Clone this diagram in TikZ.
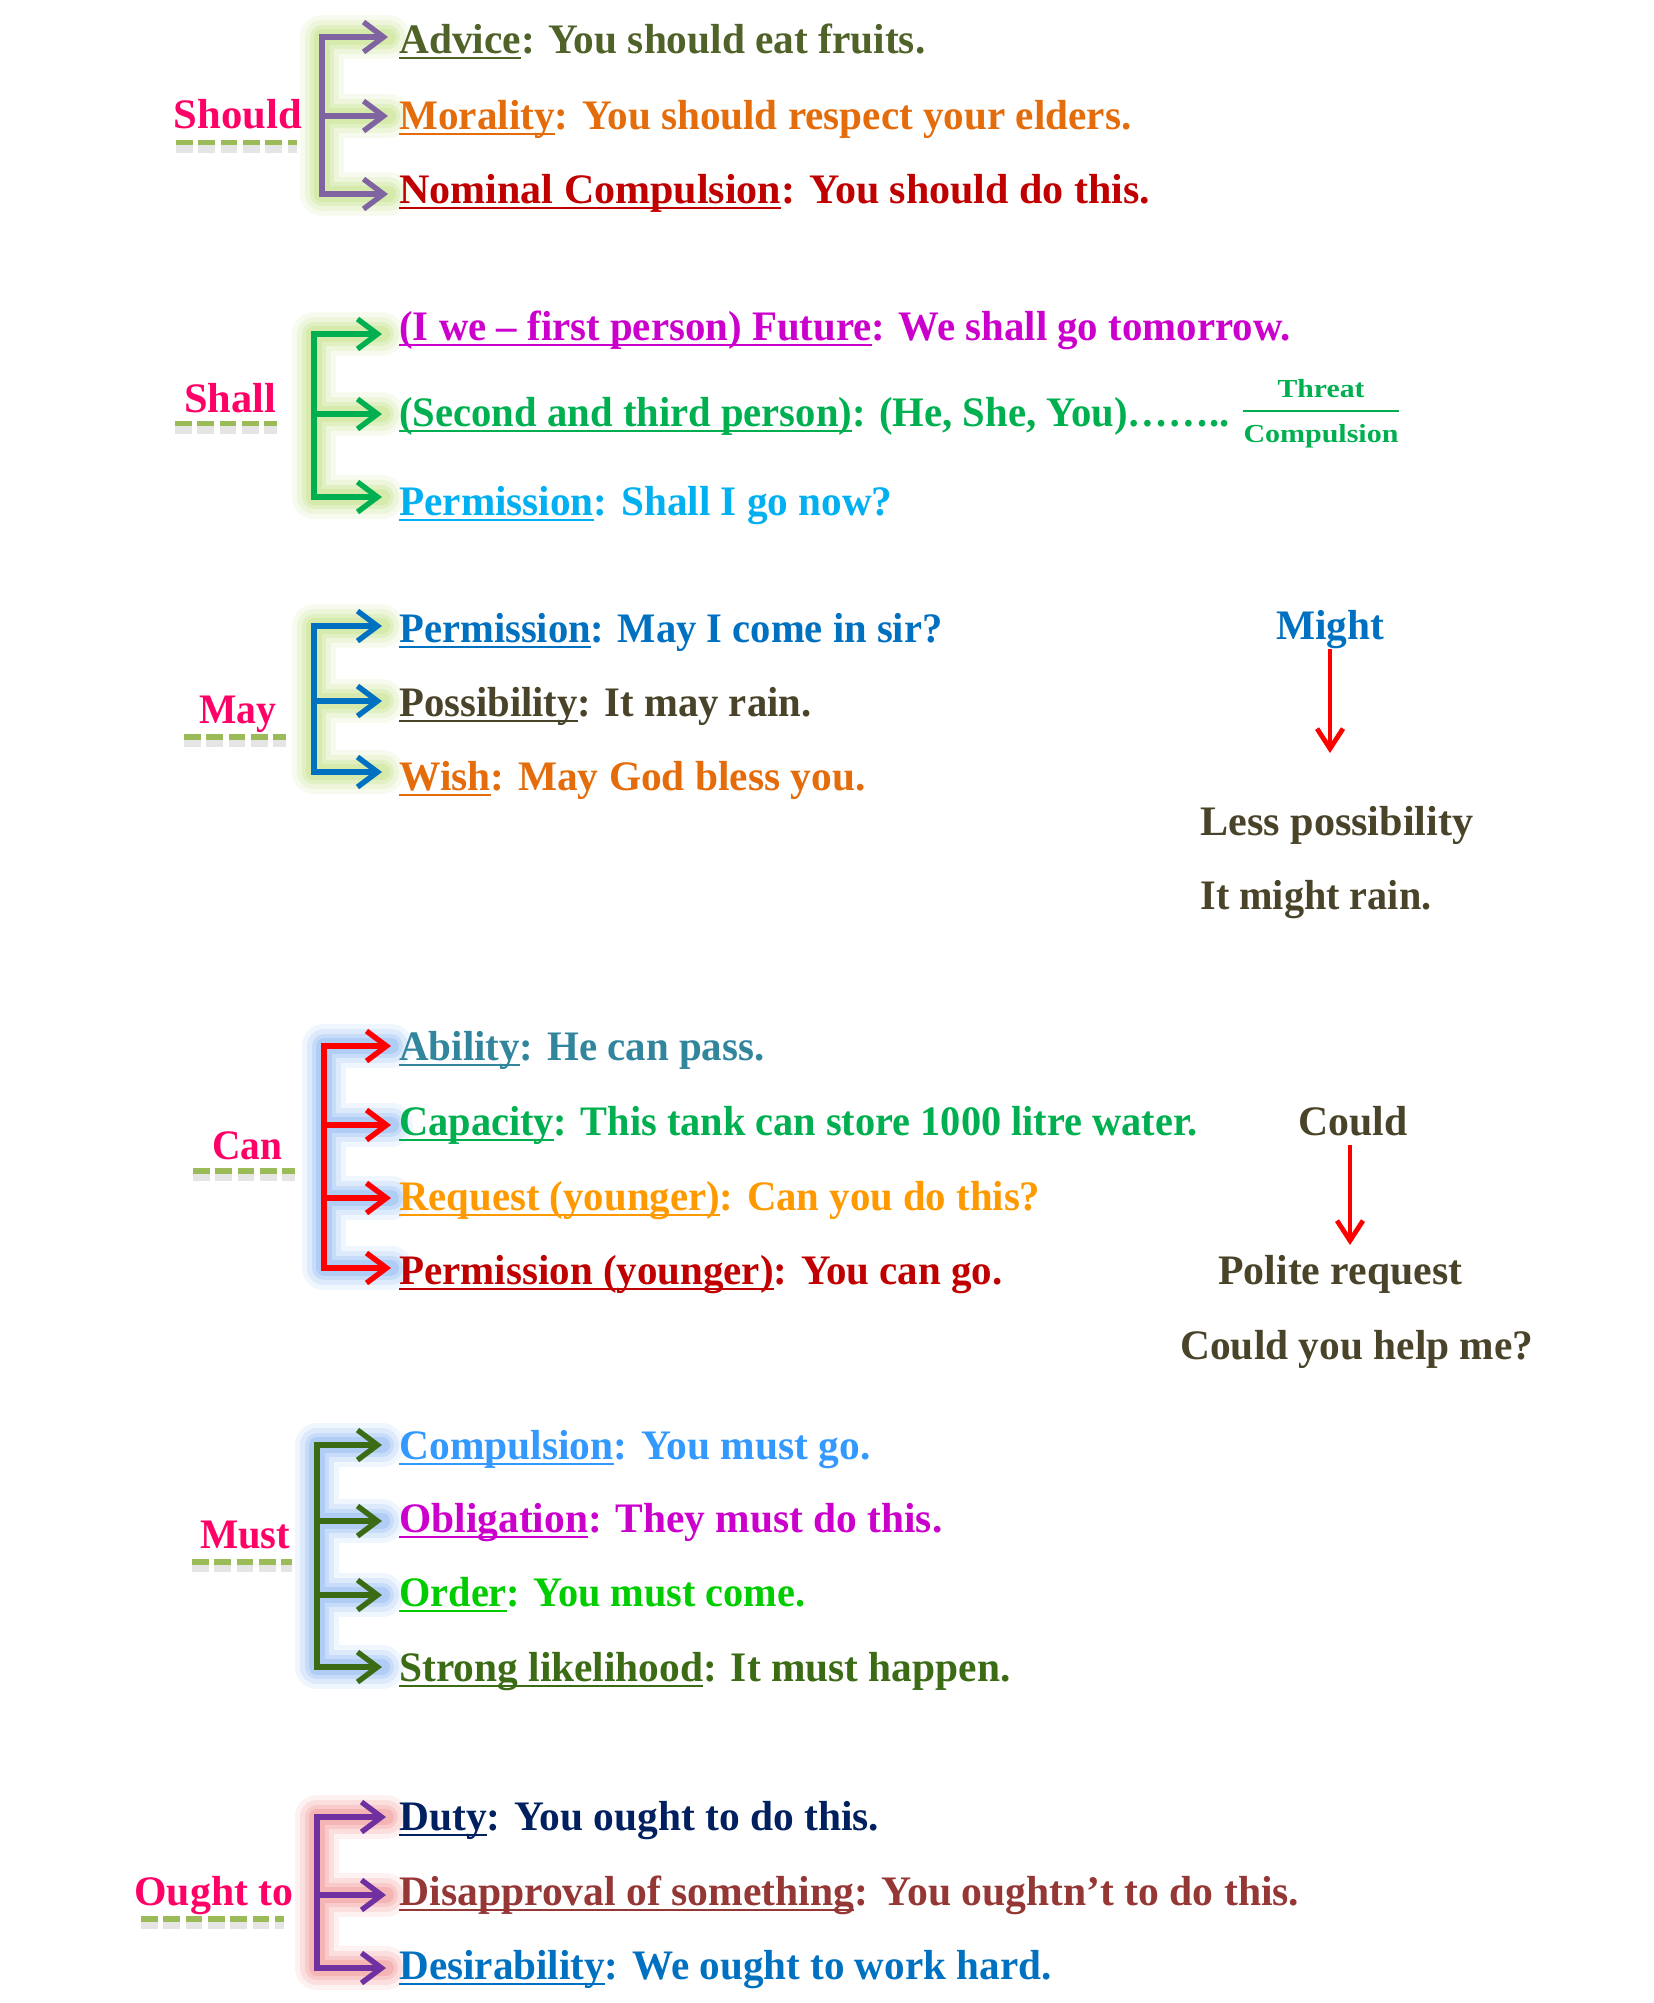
\documentclass[tikz,border=0pt]{standalone}
\usepackage{fontspec}
\setmainfont{Liberation Serif}
\usepackage{graphicx}
\usetikzlibrary{arrows.meta}
\definecolor{modal}{HTML}{FF0066}
\definecolor{dashg}{HTML}{9BBB59}
\definecolor{cshould}{HTML}{8064A2}
\definecolor{cadvice}{HTML}{4F6228}
\definecolor{corange}{HTML}{E46C0A}
\definecolor{cdred}{HTML}{C00000}
\definecolor{cgreen}{HTML}{00B050}
\definecolor{cmag}{HTML}{CC00CC}
\definecolor{ccyan}{HTML}{00B0F0}
\definecolor{cblue}{HTML}{0070C0}
\definecolor{cbrown}{HTML}{494429}
\definecolor{cteal}{HTML}{31859C}
\definecolor{camber}{HTML}{FF9900}
\definecolor{cmust}{HTML}{3B6B14}
\definecolor{clblue}{HTML}{3399FF}
\definecolor{clgreen}{HTML}{00CC00}
\definecolor{cought}{HTML}{7030A0}
\definecolor{cnavy}{HTML}{002060}
\definecolor{cmaroon}{HTML}{953735}
\definecolor{cred}{HTML}{FF0000}
\definecolor{glowg}{HTML}{B4DC64}
\definecolor{glowb}{HTML}{6FA8F0}
\definecolor{glowr}{HTML}{F07878}
\newsavebox\ulbox
\newcommand\ulx[1]{\sbox\ulbox{#1}\rlap{\rule[-0.15em]{\wd\ulbox}{0.06em}}\usebox\ulbox}
\newcommand\fw[2]{\resizebox{#1}{\height}{#2}}
\newcommand\glowpath[2]{\foreach \w/\o in {22pt/0.10,17pt/0.14,12pt/0.2,8pt/0.25}{\draw[draw=#1, line width=\w, opacity=\o, line cap=round, line join=round] #2;}}
\tikzset{
  txt/.style={anchor=base west, inner sep=0pt, font=\bfseries\fontsize{21}{24}\selectfont},
  lbl/.style={anchor=base, inner sep=0pt, font=\bfseries\fontsize{21}{24}\selectfont, text=modal},
  side/.style={inner sep=0pt, font=\bfseries\fontsize{21}{24}\selectfont, text=cbrown},
  brk/.style={line width=2.7pt, line cap=rect},
  arr/.style={line width=2.7pt, -{Straight Barb[length=10pt,width=15pt]}},
  redarr/.style={line width=2.4pt, draw=cred, -{Straight Barb[length=10pt,width=13pt]}},
  dsh/.style={line width=2.6pt, draw=dashg, dash pattern=on 8.4pt off 2.75pt},
  dshs/.style={line width=4pt, draw=black, opacity=0.10, dash pattern=on 8.4pt off 2.75pt},
  frac/.style={inner sep=0pt, anchor=base, font=\bfseries\fontsize{13}{14}\selectfont, text=cgreen}
}
\newcommand\dashes[2]{\draw[dshs, transform canvas={yshift=-3pt}] (#1) -- (#2); \draw[dsh] (#1) -- (#2);}
\begin{document}
\begin{tikzpicture}[x=0.5pt,y=-0.5pt]
\fill[white] (0,0) rectangle (1654,2003);
\useasboundingbox (0,0) rectangle (1654,2003);

% ---------------- Should
\coordinate (s1) at (322,37); \coordinate (s2) at (322,116); \coordinate (s3) at (322,194);
\coordinate (sa1) at (388,37); \coordinate (sa2) at (388,116); \coordinate (sa3) at (388,194);
\glowpath{glowg}{(s1) -- (s3) (s1) -- (sa1) (s2) -- (sa2) (s3) -- (sa3)}
\draw[brk, cshould] (s1) -- (s3);
\draw[arr, cshould] (s1) -- (sa1);
\draw[arr, cshould] (s2) -- (sa2);
\draw[arr, cshould] (s3) -- (sa3);
\node[lbl] (should) at (238,128) {\fw{64pt}{Should}};
\coordinate (sd1) at (176,142.5); \coordinate (sd2) at (297,142.5);
\dashes{sd1}{sd2}
\node[txt, text=cadvice] (sh1) at (399,53) {\fw{263pt}{\ulx{Advice}: You should eat fruits.}};
\node[txt, text=corange] (sh2) at (399,129) {\fw{366pt}{\ulx{Morality}: You should respect your elders.}};
\node[txt, text=cdred] (sh3) at (399,203) {\fw{375.5pt}{\ulx{Nominal Compulsion}: You should do this.}};

% ---------------- Shall
\coordinate (h1) at (314,334); \coordinate (h2) at (314,414); \coordinate (h3) at (314,497);
\coordinate (ha1) at (382,334); \coordinate (ha2) at (382,414); \coordinate (ha3) at (382,497);
\glowpath{glowg}{(h1) -- (h3) (h1) -- (ha1) (h2) -- (ha2) (h3) -- (ha3)}
\draw[brk, cgreen] (h1) -- (h3);
\draw[arr, cgreen] (h1) -- (ha1);
\draw[arr, cgreen] (h2) -- (ha2);
\draw[arr, cgreen] (h3) -- (ha3);
\node[lbl] (shall) at (230,412) {\fw{46pt}{Shall}};
\coordinate (hd1) at (175,423.5); \coordinate (hd2) at (277,423.5);
\dashes{hd1}{hd2}
\node[txt, text=cmag] (sl1) at (399,340) {\fw{445.5pt}{\ulx{(I we – first person) Future}: We shall go tomorrow.}};
\node[txt, text=cgreen] (sl2) at (399,426) {\fw{415pt}{\ulx{(Second and third person)}: (He, She, You)……..}};
\node[txt, text=ccyan] (sl3) at (399,515) {\fw{246.5pt}{\ulx{Permission}: Shall I go now?}};
\node[frac] (threat) at (1321,397) {\fw{43.5pt}{Threat}};
\coordinate (fr1) at (1243,411); \coordinate (fr2) at (1399,411);
\draw[cgreen, line width=1.3pt] (fr1) -- (fr2);
\node[frac] (compul) at (1321,442) {\fw{77.5pt}{Compulsion}};

% ---------------- May
\coordinate (m1) at (314,626); \coordinate (m2) at (314,701); \coordinate (m3) at (314,772);
\coordinate (ma1) at (382,626); \coordinate (ma2) at (382,701); \coordinate (ma3) at (382,772);
\glowpath{glowg}{(m1) -- (m3) (m1) -- (ma1) (m2) -- (ma2) (m3) -- (ma3)}
\draw[brk, cblue] (m1) -- (m3);
\draw[arr, cblue] (m1) -- (ma1);
\draw[arr, cblue] (m2) -- (ma2);
\draw[arr, cblue] (m3) -- (ma3);
\node[lbl] (may) at (238,723) {\fw{38.5pt}{May}};
\coordinate (md1) at (184,737); \coordinate (md2) at (286,737);
\dashes{md1}{md2}
\node[txt, text=cblue] (my1) at (399,642) {\fw{271.5pt}{\ulx{Permission}: May I come in sir?}};
\node[txt, text=cbrown] (my2) at (399,716) {\fw{206pt}{\ulx{Possibility}: It may rain.}};
\node[txt, text=corange] (my3) at (399,790) {\fw{233pt}{\ulx{Wish}: May God bless you.}};
\node[side, anchor=base, text=cblue] (might) at (1330,639) {\fw{54pt}{Might}};
\coordinate (mend) at (1330,753);
\draw[redarr] (might.south) -- (mend);
\node[side, anchor=base west] (lessp) at (1200,835) {\fw{136.5pt}{Less possibility}};
\node[side, anchor=base west] (mightr) at (1200,909) {\fw{115.5pt}{It might rain.}};

% ---------------- Can
\coordinate (c1) at (324,1046); \coordinate (c2) at (324,1125); \coordinate (c3) at (324,1198); \coordinate (c4) at (324,1268);
\coordinate (ca1) at (391,1046); \coordinate (ca2) at (391,1125); \coordinate (ca3) at (391,1198); \coordinate (ca4) at (391,1268);
\glowpath{glowb}{(c1) -- (c4) (c1) -- (ca1) (c2) -- (ca2) (c3) -- (ca3) (c4) -- (ca4)}
\draw[brk, cred] (c1) -- (c4);
\draw[arr, cred] (c1) -- (ca1);
\draw[arr, cred] (c2) -- (ca2);
\draw[arr, cred] (c3) -- (ca3);
\draw[arr, cred] (c4) -- (ca4);
\node[lbl] (can) at (247,1159) {\fw{35pt}{Can}};
\coordinate (cd1) at (193,1171); \coordinate (cd2) at (295,1171);
\dashes{cd1}{cd2}
\node[txt, text=cteal] (cn1) at (399,1060) {\fw{182.5pt}{\ulx{Ability}: He can pass.}};
\node[txt, text=cgreen] (cn2) at (399,1135) {\fw{399pt}{\ulx{Capacity}: This tank can store 1000 litre water.}};
\node[txt, text=camber] (cn3) at (399,1210) {\fw{320.5pt}{\ulx{Request (younger)}: Can you do this?}};
\node[txt, text=cdred] (cn4) at (399,1284) {\fw{301.5pt}{\ulx{Permission (younger)}: You can go.}};
\node[side, anchor=base] (could) at (1353,1135) {\fw{54.5pt}{Could}};
\coordinate (cstart) at (1350,1145);
\coordinate (cend) at (1350,1245);
\draw[redarr] (cstart) -- (cend);
\node[side, anchor=base west] (polite) at (1218,1284) {\fw{122pt}{Polite request}};
\node[side, anchor=base west] (couldyou) at (1180,1359) {\fw{176.5pt}{Could you help me?}};

% ---------------- Must
\coordinate (u1) at (317,1445); \coordinate (u2) at (317,1521); \coordinate (u3) at (317,1595); \coordinate (u4) at (317,1667);
\coordinate (ua1) at (382,1445); \coordinate (ua2) at (382,1521); \coordinate (ua3) at (382,1595); \coordinate (ua4) at (382,1667);
\glowpath{glowb}{(u1) -- (u4) (u1) -- (ua1) (u2) -- (ua2) (u3) -- (ua3) (u4) -- (ua4)}
\draw[brk, cmust] (u1) -- (u4);
\draw[arr, cmust] (u1) -- (ua1);
\draw[arr, cmust] (u2) -- (ua2);
\draw[arr, cmust] (u3) -- (ua3);
\draw[arr, cmust] (u4) -- (ua4);
\node[lbl] (must) at (245,1548) {\fw{45pt}{Must}};
\coordinate (ud1) at (192,1562); \coordinate (ud2) at (292,1562);
\dashes{ud1}{ud2}
\node[txt, text=clblue] (mu1) at (399,1459) {\fw{235.5pt}{\ulx{Compulsion}: You must go.}};
\node[txt, text=cmag] (mu2) at (399,1532) {\fw{271.5pt}{\ulx{Obligation}: They must do this.}};
\node[txt, text=clgreen] (mu3) at (399,1606) {\fw{203pt}{\ulx{Order}: You must come.}};
\node[txt, text=cmust] (mu4) at (399,1681) {\fw{305.5pt}{\ulx{Strong likelihood}: It must happen.}};

% ---------------- Ought to
\coordinate (o1) at (317,1817); \coordinate (o2) at (317,1895); \coordinate (o3) at (317,1968);
\coordinate (oa1) at (386,1817); \coordinate (oa2) at (386,1895); \coordinate (oa3) at (386,1968);
\glowpath{glowr}{(o1) -- (o3) (o1) -- (oa1) (o2) -- (oa2) (o3) -- (oa3)}
\draw[brk, cought] (o1) -- (o3);
\draw[arr, cought] (o1) -- (oa1);
\draw[arr, cought] (o2) -- (oa2);
\draw[arr, cought] (o3) -- (oa3);
\node[lbl] (ought) at (214,1905) {\fw{79.5pt}{Ought to}};
\coordinate (od1) at (141,1919); \coordinate (od2) at (284,1919);
\dashes{od1}{od2}
\node[txt, text=cnavy] (ot1) at (399,1830) {\fw{240pt}{\ulx{Duty}: You ought to do this.}};
\node[txt, text=cmaroon] (ot2) at (399,1905) {\fw{450pt}{\ulx{Disapproval of something}: You oughtn’t to do this.}};
\node[txt, text=cblue] (ot3) at (399,1979) {\fw{326pt}{\ulx{Desirability}: We ought to work hard.}};
\end{tikzpicture}
\end{document}
